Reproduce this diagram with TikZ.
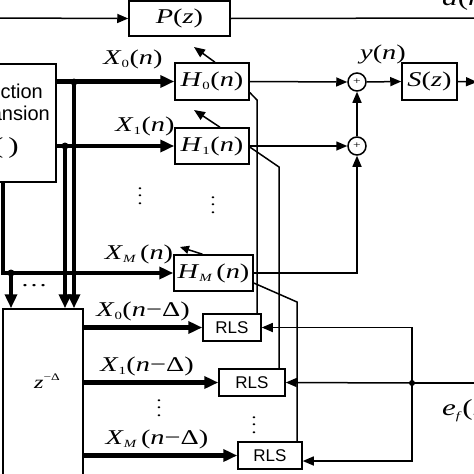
\documentclass[tikz,border=0pt]{standalone}
\usepackage{fontspec}
\setmainfont[FakeStretch=1.35]{Liberation Serif}
\newfontfamily\arial{Liberation Sans}
\usetikzlibrary{arrows.meta,calc}
\newcommand\mv[1]{\textit{#1}}
\newcommand\lsub[1]{\raisebox{-0.35ex}{\fontsize{11}{11}\selectfont #1}\kern0.5pt}
\newcommand\lsup[1]{\raisebox{1.0ex}{\fontsize{10}{10}\selectfont #1}}
\newcommand\vdts{\vbox{\baselineskip=7.5pt\lineskiplimit=-10pt\hbox{.}\hbox{.}\hbox{.}}}
\begin{document}
\begin{tikzpicture}[x=1pt,y=-1pt,
  blk/.style={draw, line width=1.5pt, inner sep=0pt, font=\fontsize{21}{24}\selectfont},
  rls/.style={blk, minimum height=27pt, font=\arial\fontsize{17}{20}\selectfont},
  sumn/.style={draw, circle, line width=1.5pt, minimum size=18pt, inner sep=0pt, font=\fontsize{10}{10}\selectfont},
  ln/.style={line width=1.5pt},
  tk/.style={line width=4.5pt},
  ar/.style={ln, -{Triangle[length=11pt,width=9pt]}},
  tar/.style={tk, -{Triangle[length=14pt,width=12pt]}},
  lbl/.style={inner sep=0pt, font=\fontsize{21}{24}\selectfont},
  vd/.style={inner sep=0pt, font=\fontsize{16}{16}\selectfont},
  sans/.style={inner sep=0pt, font=\arial\fontsize{20}{24}\selectfont},
  jdot/.style={circle, fill, inner sep=0pt, minimum size=7pt},
  sdot/.style={circle, fill, inner sep=0pt, minimum size=6pt}]
\useasboundingbox (0,0) rectangle (474,474);
\clip (0,0) rectangle (474,474);
% blocks
\node[blk, minimum width=101pt, minimum height=35pt] (P) at (179.5,18.5) {\mv{P}(\mv{z})};
\node[blk, minimum width=108pt, minimum height=118pt] (Fn) at (2,123) {};
\node[blk, minimum width=74pt, minimum height=37pt] (H0) at (212,81.5) {\mv{H}\lsub{0}(\mv{n})};
\node[blk, minimum width=74pt, minimum height=36pt] (H1) at (212,146) {\mv{H}\lsub{1}(\mv{n})};
\node[blk, minimum width=79pt, minimum height=36pt] (HM) at (213.5,273) {\mv{H}\lsub{\mv{M}}\,(\mv{n})};
\node[sumn] (s1) at (357,82) {+};
\node[sumn] (s2) at (357,146) {+};
\node[blk, minimum width=55pt, minimum height=37pt] (S) at (429.5,81.5) {\mv{S}(\mv{z})};
\node[blk, minimum width=80pt, minimum height=182pt] (Z) at (43,400) {};
\node[rls, minimum width=58pt] (R0) at (232,327.5) {RLS};
\node[rls, minimum width=66pt] (R1) at (252,382.5) {RLS};
\node[rls, minimum width=64pt] (RM) at (270,455.5) {RLS};
% texts of the boxes
\node[sans, anchor=east] (ft1) at (43,91) {Function};
\node[sans, anchor=east] (ft2) at (50,115) {Expansion};
\node[lbl, anchor=east, font=\fontsize{23}{26}\selectfont] (ft3) at (19,148) {(\hspace{5pt})};
\node[lbl, font=\fontsize{18}{20}\selectfont] (zt) at (47,381) {\mv{z}\lsup{−Δ}};
% labels
\node[lbl] (lx0) at (133,59) {\mv{X}\lsub{0}(\mv{n})};
\node[lbl] (lx1) at (145,126) {\mv{X}\lsub{1}(\mv{n})};
\node[lbl] (lxm) at (139,254) {\mv{X}\lsub{\mv{M}}\,(\mv{n})};
\node[lbl] (ld0) at (143,311) {\mv{X}\lsub{0}(\mv{n}−Δ)};
\node[lbl] (ld1) at (147,366) {\mv{X}\lsub{1}(\mv{n}−Δ)};
\node[lbl] (ldm) at (157,439) {\mv{X}\lsub{\mv{M}}\,(\mv{n}−Δ)};
\node[lbl] (ly) at (383,54) {\mv{y}(\mv{n})};
\node[lbl, anchor=base west, font=\fontsize{23}{26}\selectfont] (ld) at (442,5) {\mv{d}(\mv{n})};
\node[lbl, anchor=west, font=\fontsize{23}{26}\selectfont] (le) at (442,411) {\mv{e}\lsub{\mv{f}}(\mv{n})};
\node[vd] (v1) at (140,196) {\vdts};
\node[vd] (v2) at (213,205) {\vdts};
\node[vd] (v3) at (159,408) {\vdts};
\node[vd] (v4) at (254,425) {\vdts};
\node[lbl, font=\fontsize{20}{24}\selectfont] (hd) at (34,286) {\dots};
% primary path
\coordinate (pin) at (-5,18);
\coordinate (pout) at (480,18);
\draw[ar] (pin) -- (P.west);
\draw[ln] (P.east) -- (pout);
% expansion outputs
\node[jdot] (j0) at (74,82) {};
\node[jdot] (j1) at (65,146) {};
\node[jdot] (jm) at (11,273) {};
\coordinate (fm) at (3,182);
\draw[tar] (Fn.east |- H0.west) -- (H0.west);
\draw[tar] (Fn.east |- H1.west) -- (H1.west);
\draw[tar] (fm) |- (HM.west);
\draw[tar] (j0.center) -- (j0 |- Z.north);
\draw[tar] (j1.center) -- (j1 |- Z.north);
\draw[tar] (jm.center) -- (jm |- Z.north);
% delayed outputs
\draw[tar] (Z.east |- R0.west) -- (R0.west);
\draw[tar] (Z.east |- R1.west) -- (R1.west);
\draw[tar] (Z.east |- RM.west) -- (RM.west);
% filter outputs and sums
\draw[ar] (H0.east) -- (s1.west);
\draw[ar] (H1.east) -- (s2.west);
\draw[ar] (HM.east) -| (s2.south);
\draw[ar] (s2.north) -- (s1.south);
\draw[ar] (s1.east) -- (S.west);
\coordinate (sout) at (477,82);
\draw[ar] (S.east) -- (sout);
% filters to RLS
\coordinate (k0) at (257,100);
\coordinate (k1) at (279,167);
\coordinate (km) at (297,302);
\draw[ln] ($(H0.east)+(0,11)$) -- (k0) -- (k0 |- R0.north);
\draw[ln] ($(H1.east)+(0,1)$) -- (k1) -- (k1 |- R1.north);
\draw[ln] ($(HM.east)+(0,10)$) -- (km) -- (km |- RM.north);
% adaptation arrows
\coordinate (a0) at (194,47);
\coordinate (a1) at (194,110);
\coordinate (am) at (180,247);
\draw[ar] ($(H0.north)+(3,0)$) -- (a0);
\draw[ar] ($(H1.north)+(8,0)$) -- (a1);
\draw[ln, -{Triangle[length=9pt,width=8pt]}] ($(HM.north)+(-11,0)$) -- (am);
% error
\node[sdot] (ef) at (412,383) {};
\coordinate (ein) at (480,383);
\draw[ln] (ein) -- (ef.center);
\draw[ar] (ef.center) -- (R1.east);
\draw[ar] (ef.center) |- (R0.east);
\draw[ar] (ef.center) |- ($(RM.east)+(0,5.5)$);
\end{tikzpicture}
\end{document}
